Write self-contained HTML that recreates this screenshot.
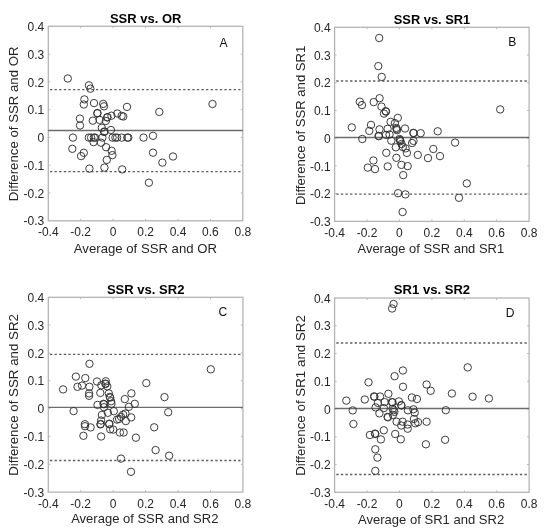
<!DOCTYPE html>
<html><head><meta charset="utf-8"><title>Bland-Altman plots</title>
<style>
html,body{margin:0;padding:0;background:#fff;}
body{width:550px;height:532px;overflow:hidden;}
svg{display:block;}
text{font-family:"Liberation Sans",sans-serif;fill:#262626;}
.tk{font-size:12px;}
.lb{font-size:13.2px;}
.tt{font-size:13.2px;font-weight:bold;fill:#000;}
.lt{font-size:12.1px;fill:#111;}
.bx{fill:none;stroke:#b4b4b4;stroke-width:1.3;}
.tick{stroke:#b8b8b8;stroke-width:1.0;}
.c{fill:none;stroke:#333;stroke-width:0.95;}
.sl{stroke:#6c6c6c;stroke-width:1.4;}
.dl{stroke:#5c5c5c;stroke-width:1.3;stroke-dasharray:2.3 2.29;stroke-dashoffset:-1.7;}
</style></head><body>
<svg width="550" height="532" viewBox="0 0 550 532">
<rect width="550" height="532" fill="#fff"/>

<g>
<rect class="bx" x="48.3" y="26.3" width="194.5" height="194.5"/>
<path class="tick" d="M80.7 220.8v-2.0M80.7 26.3v2.0M113.1 220.8v-2.0M113.1 26.3v2.0M145.6 220.8v-2.0M145.6 26.3v2.0M178.0 220.8v-2.0M178.0 26.3v2.0M210.4 220.8v-2.0M210.4 26.3v2.0M48.3 54.1h2.0M242.8 54.1h-2.0M48.3 81.9h2.0M242.8 81.9h-2.0M48.3 109.7h2.0M242.8 109.7h-2.0M48.3 137.4h2.0M242.8 137.4h-2.0M48.3 165.2h2.0M242.8 165.2h-2.0M48.3 193.0h2.0M242.8 193.0h-2.0"/>
<text class="tk" text-anchor="middle" x="48.3" y="236.4">-0.4</text>
<text class="tk" text-anchor="middle" x="80.7" y="236.4">-0.2</text>
<text class="tk" text-anchor="middle" x="113.1" y="236.4">0</text>
<text class="tk" text-anchor="middle" x="145.6" y="236.4">0.2</text>
<text class="tk" text-anchor="middle" x="178.0" y="236.4">0.4</text>
<text class="tk" text-anchor="middle" x="210.4" y="236.4">0.6</text>
<text class="tk" text-anchor="middle" x="242.8" y="236.4">0.8</text>
<text class="tk" text-anchor="end" x="44.3" y="30.9">0.4</text>
<text class="tk" text-anchor="end" x="44.3" y="58.7">0.3</text>
<text class="tk" text-anchor="end" x="44.3" y="86.5">0.2</text>
<text class="tk" text-anchor="end" x="44.3" y="114.3">0.1</text>
<text class="tk" text-anchor="end" x="44.3" y="142.0">0</text>
<text class="tk" text-anchor="end" x="44.3" y="169.8">-0.1</text>
<text class="tk" text-anchor="end" x="44.3" y="197.6">-0.2</text>
<text class="tk" text-anchor="end" x="44.3" y="225.4">-0.3</text>
<text class="tt" text-anchor="middle" textLength="71.5" lengthAdjust="spacingAndGlyphs" x="145.7" y="22.5">SSR vs. OR</text>
<text class="lb" textLength="143.2" lengthAdjust="spacingAndGlyphs" x="73.8" y="252.6">Average of SSR and OR</text>
<text class="lb" textLength="154.9" lengthAdjust="spacingAndGlyphs" transform="translate(18.3 201.30) rotate(-90)">Difference of SSR and OR</text>
<text class="lt" text-anchor="middle" x="223.5" y="46.7">A</text>
<line class="dl" x1="48.3" x2="242.8" y1="89.65" y2="89.65"/>
<line class="sl" x1="48.3" x2="242.8" y1="130.5" y2="130.5"/>
<line class="dl" x1="48.3" x2="242.8" y1="171.6" y2="171.6"/>
<circle class="c" cx="67.8" cy="78.5" r="3.7"/>
<circle class="c" cx="88.9" cy="85.3" r="3.7"/>
<circle class="c" cx="90.4" cy="88.7" r="3.7"/>
<circle class="c" cx="84.4" cy="99.4" r="3.7"/>
<circle class="c" cx="83.8" cy="104.5" r="3.7"/>
<circle class="c" cx="94.0" cy="103.1" r="3.7"/>
<circle class="c" cx="103.2" cy="103.9" r="3.7"/>
<circle class="c" cx="104.0" cy="106.3" r="3.7"/>
<circle class="c" cx="97.3" cy="113.4" r="3.7"/>
<circle class="c" cx="97.5" cy="113.0" r="3.7"/>
<circle class="c" cx="79.9" cy="118.6" r="3.7"/>
<circle class="c" cx="80.0" cy="125.5" r="3.7"/>
<circle class="c" cx="127.0" cy="106.9" r="3.7"/>
<circle class="c" cx="117.3" cy="113.5" r="3.7"/>
<circle class="c" cx="111.4" cy="115.7" r="3.7"/>
<circle class="c" cx="107.5" cy="117.1" r="3.7"/>
<circle class="c" cx="107.2" cy="117.5" r="3.7"/>
<circle class="c" cx="121.6" cy="115.9" r="3.7"/>
<circle class="c" cx="123.3" cy="116.5" r="3.7"/>
<circle class="c" cx="92.8" cy="120.7" r="3.7"/>
<circle class="c" cx="99.6" cy="119.9" r="3.7"/>
<circle class="c" cx="105.8" cy="121.0" r="3.7"/>
<circle class="c" cx="101.8" cy="127.8" r="3.7"/>
<circle class="c" cx="110.9" cy="130.0" r="3.7"/>
<circle class="c" cx="104.1" cy="132.0" r="3.7"/>
<circle class="c" cx="104.4" cy="131.5" r="3.7"/>
<circle class="c" cx="72.9" cy="137.6" r="3.7"/>
<circle class="c" cx="88.8" cy="137.6" r="3.7"/>
<circle class="c" cx="91.1" cy="137.6" r="3.7"/>
<circle class="c" cx="93.9" cy="137.6" r="3.7"/>
<circle class="c" cx="95.1" cy="137.6" r="3.7"/>
<circle class="c" cx="102.4" cy="137.6" r="3.7"/>
<circle class="c" cx="112.6" cy="137.6" r="3.7"/>
<circle class="c" cx="115.4" cy="137.6" r="3.7"/>
<circle class="c" cx="117.1" cy="137.6" r="3.7"/>
<circle class="c" cx="121.6" cy="137.6" r="3.7"/>
<circle class="c" cx="127.3" cy="137.6" r="3.7"/>
<circle class="c" cx="128.3" cy="137.6" r="3.7"/>
<circle class="c" cx="143.5" cy="137.6" r="3.7"/>
<circle class="c" cx="93.5" cy="142.1" r="3.7"/>
<circle class="c" cx="101.0" cy="142.7" r="3.7"/>
<circle class="c" cx="106.1" cy="147.2" r="3.7"/>
<circle class="c" cx="111.6" cy="150.8" r="3.7"/>
<circle class="c" cx="112.4" cy="155.1" r="3.7"/>
<circle class="c" cx="106.8" cy="159.9" r="3.7"/>
<circle class="c" cx="104.4" cy="167.6" r="3.7"/>
<circle class="c" cx="89.4" cy="168.6" r="3.7"/>
<circle class="c" cx="122.2" cy="169.4" r="3.7"/>
<circle class="c" cx="72.3" cy="148.8" r="3.7"/>
<circle class="c" cx="83.8" cy="152.8" r="3.7"/>
<circle class="c" cx="81.1" cy="156.1" r="3.7"/>
<circle class="c" cx="153.0" cy="135.8" r="3.7"/>
<circle class="c" cx="153.0" cy="152.7" r="3.7"/>
<circle class="c" cx="173.0" cy="156.5" r="3.7"/>
<circle class="c" cx="162.4" cy="162.6" r="3.7"/>
<circle class="c" cx="148.9" cy="182.7" r="3.7"/>
<circle class="c" cx="212.5" cy="104.0" r="3.7"/>
<circle class="c" cx="159.3" cy="111.9" r="3.7"/>
</g>
<g>
<rect class="bx" x="334.6" y="27.3" width="194.5" height="194.1"/>
<path class="tick" d="M367.0 221.4v-2.0M367.0 27.3v2.0M399.4 221.4v-2.0M399.4 27.3v2.0M431.9 221.4v-2.0M431.9 27.3v2.0M464.3 221.4v-2.0M464.3 27.3v2.0M496.7 221.4v-2.0M496.7 27.3v2.0M334.6 55.0h2.0M529.1 55.0h-2.0M334.6 82.8h2.0M529.1 82.8h-2.0M334.6 110.5h2.0M529.1 110.5h-2.0M334.6 138.2h2.0M529.1 138.2h-2.0M334.6 165.9h2.0M529.1 165.9h-2.0M334.6 193.7h2.0M529.1 193.7h-2.0"/>
<text class="tk" text-anchor="middle" x="334.6" y="237.0">-0.4</text>
<text class="tk" text-anchor="middle" x="367.0" y="237.0">-0.2</text>
<text class="tk" text-anchor="middle" x="399.4" y="237.0">0</text>
<text class="tk" text-anchor="middle" x="431.9" y="237.0">0.2</text>
<text class="tk" text-anchor="middle" x="464.3" y="237.0">0.4</text>
<text class="tk" text-anchor="middle" x="496.7" y="237.0">0.6</text>
<text class="tk" text-anchor="middle" x="529.1" y="237.0">0.8</text>
<text class="tk" text-anchor="end" x="330.6" y="31.9">0.4</text>
<text class="tk" text-anchor="end" x="330.6" y="59.6">0.3</text>
<text class="tk" text-anchor="end" x="330.6" y="87.4">0.2</text>
<text class="tk" text-anchor="end" x="330.6" y="115.1">0.1</text>
<text class="tk" text-anchor="end" x="330.6" y="142.8">0</text>
<text class="tk" text-anchor="end" x="330.6" y="170.5">-0.1</text>
<text class="tk" text-anchor="end" x="330.6" y="198.3">-0.2</text>
<text class="tk" text-anchor="end" x="330.6" y="226.0">-0.3</text>
<text class="tt" text-anchor="middle" textLength="76.5" lengthAdjust="spacingAndGlyphs" x="432.0" y="23.5">SSR vs. SR1</text>
<text class="lb" textLength="146.6" lengthAdjust="spacingAndGlyphs" x="357.5" y="252.6">Average of SSR and SR1</text>
<text class="lb" textLength="159.2" lengthAdjust="spacingAndGlyphs" transform="translate(304.6 204.90) rotate(-90)">Difference of SSR and SR1</text>
<text class="lt" text-anchor="middle" x="512.4" y="45.9">B</text>
<line class="dl" x1="334.6" x2="529.1" y1="81.0" y2="81.0"/>
<line class="sl" x1="334.6" x2="529.1" y1="137.5" y2="137.5"/>
<line class="dl" x1="334.6" x2="529.1" y1="194.2" y2="194.2"/>
<circle class="c" cx="379.2" cy="38.0" r="3.7"/>
<circle class="c" cx="378.3" cy="66.1" r="3.7"/>
<circle class="c" cx="381.7" cy="76.9" r="3.7"/>
<circle class="c" cx="379.6" cy="98.2" r="3.7"/>
<circle class="c" cx="359.8" cy="101.7" r="3.7"/>
<circle class="c" cx="362.0" cy="105.1" r="3.7"/>
<circle class="c" cx="373.7" cy="102.1" r="3.7"/>
<circle class="c" cx="381.5" cy="106.6" r="3.7"/>
<circle class="c" cx="385.7" cy="111.2" r="3.7"/>
<circle class="c" cx="386.0" cy="111.6" r="3.7"/>
<circle class="c" cx="384.0" cy="113.6" r="3.7"/>
<circle class="c" cx="351.8" cy="127.4" r="3.7"/>
<circle class="c" cx="371.0" cy="124.9" r="3.7"/>
<circle class="c" cx="369.3" cy="130.9" r="3.7"/>
<circle class="c" cx="362.3" cy="139.0" r="3.7"/>
<circle class="c" cx="379.5" cy="129.4" r="3.7"/>
<circle class="c" cx="378.6" cy="135.8" r="3.7"/>
<circle class="c" cx="378.9" cy="136.2" r="3.7"/>
<circle class="c" cx="387.6" cy="128.8" r="3.7"/>
<circle class="c" cx="386.0" cy="134.9" r="3.7"/>
<circle class="c" cx="389.5" cy="134.5" r="3.7"/>
<circle class="c" cx="390.6" cy="121.8" r="3.7"/>
<circle class="c" cx="391.3" cy="140.7" r="3.7"/>
<circle class="c" cx="397.8" cy="117.9" r="3.7"/>
<circle class="c" cx="394.9" cy="123.1" r="3.7"/>
<circle class="c" cx="396.3" cy="127.9" r="3.7"/>
<circle class="c" cx="396.7" cy="129.0" r="3.7"/>
<circle class="c" cx="397.0" cy="130.2" r="3.7"/>
<circle class="c" cx="405.0" cy="128.5" r="3.7"/>
<circle class="c" cx="413.3" cy="132.9" r="3.7"/>
<circle class="c" cx="413.7" cy="133.1" r="3.7"/>
<circle class="c" cx="420.7" cy="133.2" r="3.7"/>
<circle class="c" cx="399.5" cy="139.0" r="3.7"/>
<circle class="c" cx="400.0" cy="140.0" r="3.7"/>
<circle class="c" cx="400.5" cy="141.2" r="3.7"/>
<circle class="c" cx="401.6" cy="144.0" r="3.7"/>
<circle class="c" cx="413.5" cy="140.9" r="3.7"/>
<circle class="c" cx="412.1" cy="143.0" r="3.7"/>
<circle class="c" cx="402.8" cy="147.0" r="3.7"/>
<circle class="c" cx="395.8" cy="147.3" r="3.7"/>
<circle class="c" cx="405.6" cy="148.4" r="3.7"/>
<circle class="c" cx="433.3" cy="149.0" r="3.7"/>
<circle class="c" cx="406.9" cy="152.9" r="3.7"/>
<circle class="c" cx="417.8" cy="154.9" r="3.7"/>
<circle class="c" cx="386.3" cy="152.8" r="3.7"/>
<circle class="c" cx="396.4" cy="157.8" r="3.7"/>
<circle class="c" cx="373.4" cy="160.5" r="3.7"/>
<circle class="c" cx="367.8" cy="167.6" r="3.7"/>
<circle class="c" cx="375.0" cy="169.1" r="3.7"/>
<circle class="c" cx="387.7" cy="166.4" r="3.7"/>
<circle class="c" cx="401.4" cy="164.9" r="3.7"/>
<circle class="c" cx="407.7" cy="166.1" r="3.7"/>
<circle class="c" cx="403.2" cy="175.1" r="3.7"/>
<circle class="c" cx="398.1" cy="193.2" r="3.7"/>
<circle class="c" cx="405.4" cy="194.4" r="3.7"/>
<circle class="c" cx="402.6" cy="212.0" r="3.7"/>
<circle class="c" cx="500.2" cy="109.4" r="3.7"/>
<circle class="c" cx="437.7" cy="131.3" r="3.7"/>
<circle class="c" cx="455.1" cy="142.6" r="3.7"/>
<circle class="c" cx="440.0" cy="156.1" r="3.7"/>
<circle class="c" cx="428.0" cy="158.1" r="3.7"/>
<circle class="c" cx="466.8" cy="183.4" r="3.7"/>
<circle class="c" cx="459.0" cy="197.8" r="3.7"/>
</g>
<g>
<rect class="bx" x="48.3" y="297.3" width="194.6" height="194.8"/>
<path class="tick" d="M80.7 492.1v-2.0M80.7 297.3v2.0M113.2 492.1v-2.0M113.2 297.3v2.0M145.6 492.1v-2.0M145.6 297.3v2.0M178.0 492.1v-2.0M178.0 297.3v2.0M210.5 492.1v-2.0M210.5 297.3v2.0M48.3 325.1h2.0M242.9 325.1h-2.0M48.3 353.0h2.0M242.9 353.0h-2.0M48.3 380.8h2.0M242.9 380.8h-2.0M48.3 408.6h2.0M242.9 408.6h-2.0M48.3 436.4h2.0M242.9 436.4h-2.0M48.3 464.3h2.0M242.9 464.3h-2.0"/>
<text class="tk" text-anchor="middle" x="48.3" y="507.7">-0.4</text>
<text class="tk" text-anchor="middle" x="80.7" y="507.7">-0.2</text>
<text class="tk" text-anchor="middle" x="113.2" y="507.7">0</text>
<text class="tk" text-anchor="middle" x="145.6" y="507.7">0.2</text>
<text class="tk" text-anchor="middle" x="178.0" y="507.7">0.4</text>
<text class="tk" text-anchor="middle" x="210.5" y="507.7">0.6</text>
<text class="tk" text-anchor="middle" x="242.9" y="507.7">0.8</text>
<text class="tk" text-anchor="end" x="44.3" y="301.9">0.4</text>
<text class="tk" text-anchor="end" x="44.3" y="329.7">0.3</text>
<text class="tk" text-anchor="end" x="44.3" y="357.6">0.2</text>
<text class="tk" text-anchor="end" x="44.3" y="385.4">0.1</text>
<text class="tk" text-anchor="end" x="44.3" y="413.2">0</text>
<text class="tk" text-anchor="end" x="44.3" y="441.0">-0.1</text>
<text class="tk" text-anchor="end" x="44.3" y="468.9">-0.2</text>
<text class="tk" text-anchor="end" x="44.3" y="496.7">-0.3</text>
<text class="tt" text-anchor="middle" textLength="77.6" lengthAdjust="spacingAndGlyphs" x="145.7" y="293.5">SSR vs. SR2</text>
<text class="lb" textLength="147.2" lengthAdjust="spacingAndGlyphs" x="71.2" y="523.2">Average of SSR and SR2</text>
<text class="lb" textLength="161.8" lengthAdjust="spacingAndGlyphs" transform="translate(18.3 475.85) rotate(-90)">Difference of SSR and SR2</text>
<text class="lt" text-anchor="middle" x="222.9" y="315.5">C</text>
<line class="dl" x1="48.3" x2="242.9" y1="354.3" y2="354.3"/>
<line class="sl" x1="48.3" x2="242.9" y1="407.4" y2="407.4"/>
<line class="dl" x1="48.3" x2="242.9" y1="460.5" y2="460.5"/>
<circle class="c" cx="89.5" cy="363.8" r="3.7"/>
<circle class="c" cx="75.9" cy="376.6" r="3.7"/>
<circle class="c" cx="85.3" cy="378.1" r="3.7"/>
<circle class="c" cx="63.1" cy="389.4" r="3.7"/>
<circle class="c" cx="77.5" cy="386.8" r="3.7"/>
<circle class="c" cx="82.0" cy="385.6" r="3.7"/>
<circle class="c" cx="89.4" cy="386.8" r="3.7"/>
<circle class="c" cx="89.1" cy="393.4" r="3.7"/>
<circle class="c" cx="89.1" cy="395.8" r="3.7"/>
<circle class="c" cx="97.0" cy="381.5" r="3.7"/>
<circle class="c" cx="101.3" cy="385.3" r="3.7"/>
<circle class="c" cx="105.8" cy="381.3" r="3.7"/>
<circle class="c" cx="105.3" cy="383.6" r="3.7"/>
<circle class="c" cx="105.7" cy="384.0" r="3.7"/>
<circle class="c" cx="107.3" cy="386.4" r="3.7"/>
<circle class="c" cx="100.3" cy="392.9" r="3.7"/>
<circle class="c" cx="108.8" cy="393.4" r="3.7"/>
<circle class="c" cx="109.8" cy="396.9" r="3.7"/>
<circle class="c" cx="110.2" cy="397.6" r="3.7"/>
<circle class="c" cx="111.1" cy="401.2" r="3.7"/>
<circle class="c" cx="111.5" cy="403.8" r="3.7"/>
<circle class="c" cx="103.5" cy="403.8" r="3.7"/>
<circle class="c" cx="103.9" cy="404.3" r="3.7"/>
<circle class="c" cx="97.5" cy="404.9" r="3.7"/>
<circle class="c" cx="104.0" cy="407.2" r="3.7"/>
<circle class="c" cx="73.6" cy="411.1" r="3.7"/>
<circle class="c" cx="124.8" cy="399.1" r="3.7"/>
<circle class="c" cx="131.4" cy="393.4" r="3.7"/>
<circle class="c" cx="113.8" cy="411.2" r="3.7"/>
<circle class="c" cx="107.9" cy="412.8" r="3.7"/>
<circle class="c" cx="101.9" cy="414.9" r="3.7"/>
<circle class="c" cx="128.9" cy="406.8" r="3.7"/>
<circle class="c" cx="134.8" cy="403.8" r="3.7"/>
<circle class="c" cx="125.5" cy="413.5" r="3.7"/>
<circle class="c" cx="123.1" cy="414.5" r="3.7"/>
<circle class="c" cx="121.0" cy="416.8" r="3.7"/>
<circle class="c" cx="119.1" cy="419.0" r="3.7"/>
<circle class="c" cx="117.0" cy="419.6" r="3.7"/>
<circle class="c" cx="125.8" cy="421.1" r="3.7"/>
<circle class="c" cx="131.2" cy="417.4" r="3.7"/>
<circle class="c" cx="101.1" cy="420.5" r="3.7"/>
<circle class="c" cx="84.9" cy="424.2" r="3.7"/>
<circle class="c" cx="85.0" cy="426.2" r="3.7"/>
<circle class="c" cx="90.6" cy="427.4" r="3.7"/>
<circle class="c" cx="83.4" cy="435.8" r="3.7"/>
<circle class="c" cx="101.1" cy="436.5" r="3.7"/>
<circle class="c" cx="100.4" cy="424.4" r="3.7"/>
<circle class="c" cx="100.7" cy="424.0" r="3.7"/>
<circle class="c" cx="109.1" cy="424.1" r="3.7"/>
<circle class="c" cx="109.4" cy="423.7" r="3.7"/>
<circle class="c" cx="110.2" cy="429.3" r="3.7"/>
<circle class="c" cx="113.2" cy="429.6" r="3.7"/>
<circle class="c" cx="119.9" cy="432.5" r="3.7"/>
<circle class="c" cx="123.6" cy="432.5" r="3.7"/>
<circle class="c" cx="121.0" cy="458.6" r="3.7"/>
<circle class="c" cx="131.0" cy="471.8" r="3.7"/>
<circle class="c" cx="146.3" cy="383.1" r="3.7"/>
<circle class="c" cx="164.5" cy="397.1" r="3.7"/>
<circle class="c" cx="168.2" cy="412.2" r="3.7"/>
<circle class="c" cx="154.2" cy="427.3" r="3.7"/>
<circle class="c" cx="135.9" cy="437.7" r="3.7"/>
<circle class="c" cx="155.6" cy="450.1" r="3.7"/>
<circle class="c" cx="169.1" cy="455.7" r="3.7"/>
<circle class="c" cx="210.8" cy="369.3" r="3.7"/>
</g>
<g>
<rect class="bx" x="334.6" y="298.0" width="194.5" height="194.3"/>
<path class="tick" d="M367.0 492.3v-2.0M367.0 298.0v2.0M399.4 492.3v-2.0M399.4 298.0v2.0M431.9 492.3v-2.0M431.9 298.0v2.0M464.3 492.3v-2.0M464.3 298.0v2.0M496.7 492.3v-2.0M496.7 298.0v2.0M334.6 325.8h2.0M529.1 325.8h-2.0M334.6 353.5h2.0M529.1 353.5h-2.0M334.6 381.3h2.0M529.1 381.3h-2.0M334.6 409.0h2.0M529.1 409.0h-2.0M334.6 436.8h2.0M529.1 436.8h-2.0M334.6 464.5h2.0M529.1 464.5h-2.0"/>
<text class="tk" text-anchor="middle" x="334.6" y="507.9">-0.4</text>
<text class="tk" text-anchor="middle" x="367.0" y="507.9">-0.2</text>
<text class="tk" text-anchor="middle" x="399.4" y="507.9">0</text>
<text class="tk" text-anchor="middle" x="431.9" y="507.9">0.2</text>
<text class="tk" text-anchor="middle" x="464.3" y="507.9">0.4</text>
<text class="tk" text-anchor="middle" x="496.7" y="507.9">0.6</text>
<text class="tk" text-anchor="middle" x="529.1" y="507.9">0.8</text>
<text class="tk" text-anchor="end" x="330.6" y="302.6">0.4</text>
<text class="tk" text-anchor="end" x="330.6" y="330.4">0.3</text>
<text class="tk" text-anchor="end" x="330.6" y="358.1">0.2</text>
<text class="tk" text-anchor="end" x="330.6" y="385.9">0.1</text>
<text class="tk" text-anchor="end" x="330.6" y="413.6">0</text>
<text class="tk" text-anchor="end" x="330.6" y="441.4">-0.1</text>
<text class="tk" text-anchor="end" x="330.6" y="469.1">-0.2</text>
<text class="tk" text-anchor="end" x="330.6" y="496.9">-0.3</text>
<text class="tt" text-anchor="middle" textLength="76.3" lengthAdjust="spacingAndGlyphs" x="432.0" y="294.2">SR1 vs. SR2</text>
<text class="lb" textLength="146.2" lengthAdjust="spacingAndGlyphs" x="358.0" y="523.8">Average of SR1 and SR2</text>
<text class="lb" textLength="160.8" lengthAdjust="spacingAndGlyphs" transform="translate(304.6 475.85) rotate(-90)">Difference of SR1 and SR2</text>
<text class="lt" text-anchor="middle" x="510.1" y="316.6">D</text>
<line class="dl" x1="334.6" x2="529.1" y1="343.0" y2="343.0"/>
<line class="sl" x1="334.6" x2="529.1" y1="408.5" y2="408.5"/>
<line class="dl" x1="334.6" x2="529.1" y1="474.5" y2="474.5"/>
<circle class="c" cx="393.6" cy="304.0" r="3.7"/>
<circle class="c" cx="392.1" cy="308.5" r="3.7"/>
<circle class="c" cx="402.9" cy="370.5" r="3.7"/>
<circle class="c" cx="394.6" cy="376.2" r="3.7"/>
<circle class="c" cx="368.5" cy="382.3" r="3.7"/>
<circle class="c" cx="403.0" cy="386.8" r="3.7"/>
<circle class="c" cx="388.4" cy="393.8" r="3.7"/>
<circle class="c" cx="374.1" cy="396.4" r="3.7"/>
<circle class="c" cx="374.4" cy="396.8" r="3.7"/>
<circle class="c" cx="380.1" cy="396.5" r="3.7"/>
<circle class="c" cx="364.8" cy="399.5" r="3.7"/>
<circle class="c" cx="346.3" cy="400.6" r="3.7"/>
<circle class="c" cx="411.9" cy="397.5" r="3.7"/>
<circle class="c" cx="377.9" cy="402.9" r="3.7"/>
<circle class="c" cx="384.6" cy="402.1" r="3.7"/>
<circle class="c" cx="391.8" cy="402.0" r="3.7"/>
<circle class="c" cx="392.6" cy="402.4" r="3.7"/>
<circle class="c" cx="398.9" cy="401.4" r="3.7"/>
<circle class="c" cx="401.2" cy="405.1" r="3.7"/>
<circle class="c" cx="401.5" cy="405.5" r="3.7"/>
<circle class="c" cx="375.6" cy="407.4" r="3.7"/>
<circle class="c" cx="383.9" cy="408.1" r="3.7"/>
<circle class="c" cx="392.6" cy="408.8" r="3.7"/>
<circle class="c" cx="393.6" cy="410.2" r="3.7"/>
<circle class="c" cx="394.4" cy="411.9" r="3.7"/>
<circle class="c" cx="352.7" cy="410.4" r="3.7"/>
<circle class="c" cx="379.4" cy="413.4" r="3.7"/>
<circle class="c" cx="387.6" cy="416.9" r="3.7"/>
<circle class="c" cx="387.9" cy="417.3" r="3.7"/>
<circle class="c" cx="392.9" cy="414.9" r="3.7"/>
<circle class="c" cx="407.9" cy="410.3" r="3.7"/>
<circle class="c" cx="413.4" cy="409.3" r="3.7"/>
<circle class="c" cx="414.0" cy="418.9" r="3.7"/>
<circle class="c" cx="396.6" cy="421.7" r="3.7"/>
<circle class="c" cx="402.6" cy="421.7" r="3.7"/>
<circle class="c" cx="401.2" cy="425.5" r="3.7"/>
<circle class="c" cx="407.6" cy="424.5" r="3.7"/>
<circle class="c" cx="407.7" cy="428.7" r="3.7"/>
<circle class="c" cx="353.4" cy="424.0" r="3.7"/>
<circle class="c" cx="383.8" cy="430.3" r="3.7"/>
<circle class="c" cx="395.2" cy="434.0" r="3.7"/>
<circle class="c" cx="375.0" cy="433.6" r="3.7"/>
<circle class="c" cx="375.3" cy="434.0" r="3.7"/>
<circle class="c" cx="369.9" cy="435.0" r="3.7"/>
<circle class="c" cx="380.9" cy="439.4" r="3.7"/>
<circle class="c" cx="400.8" cy="439.3" r="3.7"/>
<circle class="c" cx="375.3" cy="449.3" r="3.7"/>
<circle class="c" cx="377.4" cy="457.6" r="3.7"/>
<circle class="c" cx="375.3" cy="470.9" r="3.7"/>
<circle class="c" cx="467.7" cy="367.4" r="3.7"/>
<circle class="c" cx="426.6" cy="384.5" r="3.7"/>
<circle class="c" cx="430.7" cy="390.8" r="3.7"/>
<circle class="c" cx="451.9" cy="393.5" r="3.7"/>
<circle class="c" cx="472.6" cy="396.7" r="3.7"/>
<circle class="c" cx="488.9" cy="398.5" r="3.7"/>
<circle class="c" cx="416.9" cy="399.0" r="3.7"/>
<circle class="c" cx="445.8" cy="410.2" r="3.7"/>
<circle class="c" cx="414.7" cy="412.7" r="3.7"/>
<circle class="c" cx="415.3" cy="423.3" r="3.7"/>
<circle class="c" cx="418.0" cy="422.2" r="3.7"/>
<circle class="c" cx="426.6" cy="421.7" r="3.7"/>
<circle class="c" cx="445.1" cy="439.8" r="3.7"/>
<circle class="c" cx="425.9" cy="444.3" r="3.7"/>
</g>
</svg></body></html>
